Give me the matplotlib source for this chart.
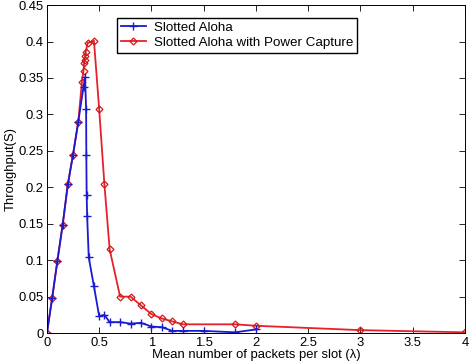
import matplotlib
matplotlib.use("Agg")
import matplotlib.pyplot as plt

# Slotted Aloha (blue, '+' markers)
sa_x = [0, 0.05, 0.1, 0.15, 0.2, 0.25, 0.3, 0.35, 0.365, 0.375, 0.377, 0.38, 0.385, 0.4,
        0.45, 0.5, 0.55, 0.6, 0.7, 0.8, 0.9, 1.0, 1.1, 1.2, 1.3, 1.5, 1.8, 2.0]
sa_y = [0, 0.048, 0.099, 0.148, 0.204, 0.245, 0.29, 0.338, 0.351, 0.307, 0.244, 0.19, 0.16, 0.104,
        0.064, 0.023, 0.025, 0.015, 0.015, 0.013, 0.014, 0.009, 0.008, 0.003, 0.003, 0.003, 0.001, 0.005]

# Slotted Aloha with Power Capture (red, diamond markers)
pc_x = [0, 0.05, 0.1, 0.15, 0.2, 0.25, 0.3, 0.335, 0.35, 0.355, 0.36, 0.365, 0.37, 0.39,
        0.45, 0.5, 0.55, 0.6, 0.7, 0.8, 0.9, 1.0, 1.1, 1.2, 1.3, 1.8, 2.0, 3.0, 4.0]
pc_y = [0, 0.048, 0.099, 0.148, 0.204, 0.245, 0.29, 0.345, 0.36, 0.37, 0.375, 0.38, 0.385, 0.398,
        0.401, 0.307, 0.204, 0.115, 0.05, 0.05, 0.038, 0.026, 0.02, 0.016, 0.012, 0.012, 0.01, 0.004, 0.001]

x_ticks = [0, 0.5, 1, 1.5, 2, 2.5, 3, 3.5, 4]
y_ticks = [0, 0.05, 0.1, 0.15, 0.2, 0.25, 0.3, 0.35, 0.4, 0.45]
x_labels = ["0", "0.5", "1", "1.5", "2", "2.5", "3", "3.5", "4"]
y_labels = ["0", "0.05", "0.1", "0.15", "0.2", "0.25", "0.3", "0.35", "0.4", "0.45"]

plt.rcParams["font.family"] = ["Liberation Sans", "DejaVu Sans"]
plt.rcParams["font.size"] = 9.4

fig = plt.figure(figsize=(4.74, 3.64), dpi=100)
ax = fig.add_axes([0.099, 0.085, 0.882, 0.901])

ax.plot(pc_x, pc_y, color="#e8202a", lw=1.3, marker="D", markersize=3.5,
        markerfacecolor="none", markeredgecolor="#d01818", markeredgewidth=0.9,
        label="Slotted Aloha with Power Capture")
ax.plot(sa_x, sa_y, color="#1a1ad0", lw=1.3, marker="+", markersize=6,
        markeredgewidth=1.0, label="Slotted Aloha")

ax.set_xlim(0, 4)
ax.set_ylim(0, 0.45)
ax.set_xticks(x_ticks)
ax.set_xticklabels(x_labels)
ax.set_yticks(y_ticks)
ax.set_yticklabels(y_labels)
ax.tick_params(direction="in", top=True, right=True, length=4, width=0.6, pad=2.5)
for s in ax.spines.values():
    s.set_linewidth(0.7)

ax.set_xlabel("Mean number of packets per slot (\u03bb)", labelpad=0)
ax.set_ylabel("Throughput(S)", labelpad=1)

handles, labels = ax.get_legend_handles_labels()
ax.legend(handles[::-1], labels[::-1], loc="upper left", bbox_to_anchor=(0.167, 0.962),
          frameon=True, fancybox=False, edgecolor="black", framealpha=1,
          fontsize=9.6, borderpad=0.3, handlelength=1.9, handletextpad=0.6,
          labelspacing=0.2, borderaxespad=0)

fig.savefig("out.png", dpi=100)
